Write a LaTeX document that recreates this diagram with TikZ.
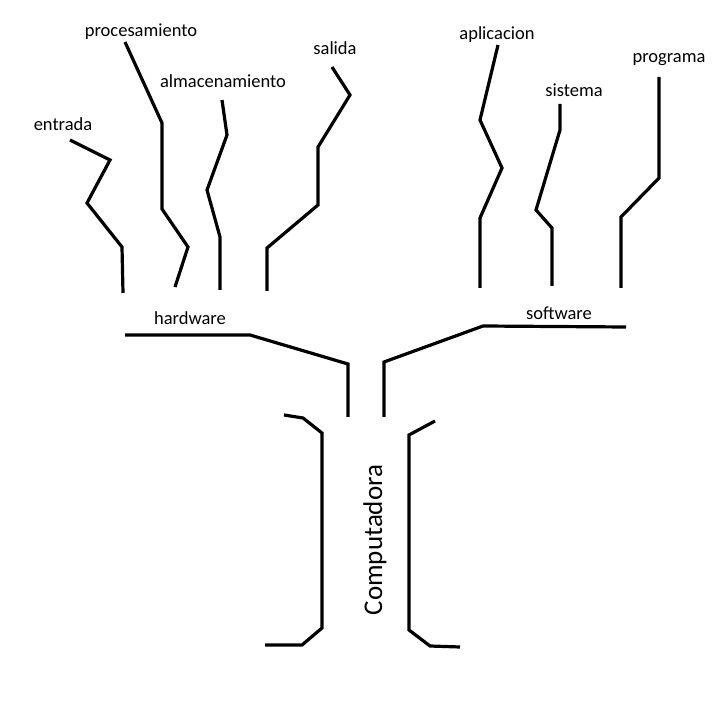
\documentclass[tikz,border=0pt]{standalone}
\usepackage{fontspec}
\setmainfont{Carlito}
\begin{document}
\begin{tikzpicture}[x=1pt,y=-1pt,line width=3.2pt,
  br/.style={draw=black,line join=miter},
  lbl/.style={font=\fontsize{18.5}{20}\selectfont,inner sep=0pt}]
\useasboundingbox[fill=white] (0,0) rectangle (726,708);
% branches
\draw[br] (70,140)--(110,160)--(87,203)--(122,247)--(123,293);
\draw[br] (125,42)--(162,123)--(162,209)--(188,247)--(175,287);
\draw[br] (222,100)--(227,135)--(207,190)--(220,237)--(220,290);
\draw[br] (332,67)--(350,95)--(318,147)--(318,205)--(267,248)--(267,291);
\draw[br] (498,45)--(480,120)--(502,168)--(480,218)--(480,288);
\draw[br] (560,104)--(560,130)--(536,210)--(552,228)--(552,286);
\draw[br] (659,77)--(659,178)--(621,217)--(621,288);
\draw[br] (125,335)--(250,335)--(348,364)--(348,417);
\draw[br] (626,327)--(483,326)--(384,362)--(384,417);
\draw[br] (284,415)--(303,418)--(322,433)--(322,628)--(302,645)--(265,645);
\draw[br] (435,421)--(409,435)--(409,630)--(430,646)--(460,647);
% labels
\node[lbl] (entrada) at (63,124) {entrada};
\node[lbl] (proc) at (141,32) {procesamiento};
\node[lbl] (alm) at (223,81) {almacenamiento};
\node[lbl] (sal) at (335,48) {salida};
\node[lbl] (apl) at (497,35) {aplicacion};
\node[lbl] (sis) at (574,90) {sistema};
\node[lbl] (prog) at (669,60) {programa};
\node[lbl] (hw) at (190,318) {hardware};
\node[lbl] (sw) at (559,313) {software};
\node[lbl,rotate=90,font=\fontsize{27}{30}\selectfont] (comp) at (375,540) {Computadora};
\end{tikzpicture}
\end{document}
